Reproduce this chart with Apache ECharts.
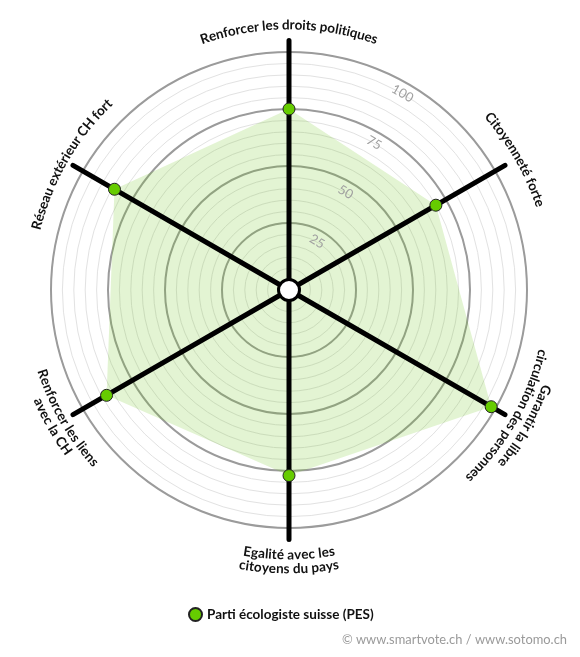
<!DOCTYPE html>
<html><head><meta charset="utf-8">
<script src="https://cdn.jsdelivr.net/npm/echarts@6/dist/echarts.min.js"></script>
<style>html,body{margin:0;padding:0;background:#fff}#c{width:580px;height:657px}</style>
</head><body><div id="c"></div>
<script>
// ---- data ----
const categories = ['Renforcer les droits politiques', 'Citoyenneté forte', 'Garantir la libre circulation des personnes', 'Egalité avec les citoyens du pays', 'Renforcer les liens avec la CH', 'Réseau extérieur CH fort'];
const labelLines = [['Renforcer les droits politiques'], ['Citoyenneté forte'], ['Garantir la libre', 'circulation des personnes'], ['Egalité avec les', 'citoyens du pays'], ['Renforcer les liens', 'avec la CH'], ['Réseau extérieur CH fort']];
const values = [75, 70, 98, 77, 88, 84];
const radialTicks = [25, 50, 75, 100];
const seriesName = 'Parti écologiste suisse (PES)';
const credit = '© www.smartvote.ch / www.sotomo.ch';

// ---- layout ----
const CX = 289, CY = 290, R0 = 10, R1 = 238, AXIS_END = 105;
const labelMode = ['out', 'out', 'out', 'in', 'in', 'out'];
const labelRadius = [265, 265, 261, 265, 260, 260];
const LINE_GAP = 14;
const STEP = 360 / categories.length;
function rOf(v) { return R0 + (R1 - R0) * v / 100; }

const ctx = document.createElement('canvas').getContext('2d');
const LABEL_SIZE = 13.5, LABEL_WEIGHT = 'bold';
ctx.font = LABEL_WEIGHT + ' ' + LABEL_SIZE + 'px Lato';

const graphics = [];
categories.forEach((c, i) => {
  const theta = i * 2 * Math.PI / categories.length;
  const lines = labelLines[i];
  const n = lines.length;
  lines.forEach((line, k) => {
    const rho = labelMode[i] === 'out' ? labelRadius[i] + (n - 1 - k) * LINE_GAP : labelRadius[i] + k * LINE_GAP;
    const chars = Array.from(line);
    const widths = chars.map(ch => ctx.measureText(ch).width);
    const L = widths.reduce((a, b) => a + b, 0);
    let cum = 0;
    chars.forEach((ch, j) => {
      const s = (cum + widths[j] / 2) / rho;
      cum += widths[j];
      let phi, rot;
      if (labelMode[i] === 'out') { phi = theta - L / (2 * rho) + s; rot = -phi; }
      else { phi = theta + L / (2 * rho) - s; rot = -(phi + Math.PI); }
      graphics.push({
        type: 'text', x: CX + rho * Math.sin(phi), y: CY - rho * Math.cos(phi), rotation: rot, z: 10,
        style: { text: ch, fontFamily: 'Lato', fontSize: LABEL_SIZE, fontWeight: LABEL_WEIGHT, fill: '#111', align: 'center', verticalAlign: 'middle' }
      });
    });
  });
});
radialTicks.forEach(v => {
  const rho = rOf(v) - 11, phi = Math.PI / 6;
  graphics.push({
    type: 'text', x: CX + rho * Math.sin(phi), y: CY - rho * Math.cos(phi), rotation: -phi, z: 10,
    style: { text: String(v), fontFamily: 'Lato', fontSize: 13, fill: '#a0a0a0', align: 'center', verticalAlign: 'middle' }
  });
});
graphics.push({ type: 'circle', shape: { cx: CX, cy: CY, r: 10.5 }, z: 20, style: { fill: '#fff', stroke: '#000', lineWidth: 3 } });
graphics.push({ type: 'text', x: 567, y: 640, z: 10, style: { text: credit, fontFamily: 'Lato', fontSize: 12.9, fill: '#9a9a9a', align: 'right', verticalAlign: 'middle' } });

const hid = () => ({ axisLine: { show: false }, axisTick: { show: false }, axisLabel: { show: false } });
const areaData = values.map((v, i) => [v, i * STEP]).concat([[values[0], 360]]);
const series = [
  {
    type: 'line', name: 'area', coordinateSystem: 'polar', polarIndex: 0, z: 2, silent: true, clip: false,
    data: areaData, symbol: 'none', lineStyle: { width: 0, opacity: 0 },
    areaStyle: { color: 'rgba(110,200,30,0.28)' }
  },
  {
    type: 'scatter', name: seriesName, coordinateSystem: 'polar', polarIndex: 0, z: 5,
    data: values.map((v, i) => [v, i * STEP]), symbolSize: 12,
    itemStyle: { color: '#66cc00', borderColor: '#222', borderWidth: 1, opacity: 1 }
  }
];

const option = {
  animation: false,
  backgroundColor: '#fff',
  polar: [
    { center: [CX, CY], radius: [R0, R1] },
    { center: [CX, CY], radius: [R0, R1] },
    { center: [CX, CY], radius: [R0, rOf(AXIS_END)] }
  ],
  angleAxis: [
    Object.assign({ polarIndex: 0, type: 'value', min: 0, max: 360, startAngle: 90, clockwise: true, splitLine: { show: false } }, hid()),
    Object.assign({ polarIndex: 1, type: 'value', min: 0, max: 360, splitLine: { show: false } }, hid()),
    Object.assign({ polarIndex: 2, type: 'value', min: 0, max: 360, interval: STEP, startAngle: 90, clockwise: true, z: 4,
      splitLine: { show: true, lineStyle: { color: '#000', width: 5, cap: 'round' } } }, hid())
  ],
  radiusAxis: [
    Object.assign({ polarIndex: 0, type: 'value', min: 0, max: 100, interval: 5, splitLine: { show: true, lineStyle: { color: '#e2e2e2', width: 1 } } }, hid()),
    Object.assign({ polarIndex: 1, type: 'value', min: 0, max: 100, interval: 25, z: 1, splitLine: { show: true, lineStyle: { color: '#9b9b9b', width: 2 } } }, hid()),
    Object.assign({ polarIndex: 2, type: 'value', min: 0, max: AXIS_END, splitLine: { show: false } }, hid())
  ],
  legend: {
    data: [seriesName], left: 183, top: 602, icon: 'circle', itemWidth: 13, itemHeight: 13,
    textStyle: { fontFamily: 'Lato', fontSize: 13.5, fontWeight: 'bold', color: '#111' }
  },
  graphic: { elements: graphics },
  series: series
};
const chart = echarts.init(document.getElementById('c'), null, { renderer: 'canvas' });
chart.setOption(option);
</script>
</body></html>
